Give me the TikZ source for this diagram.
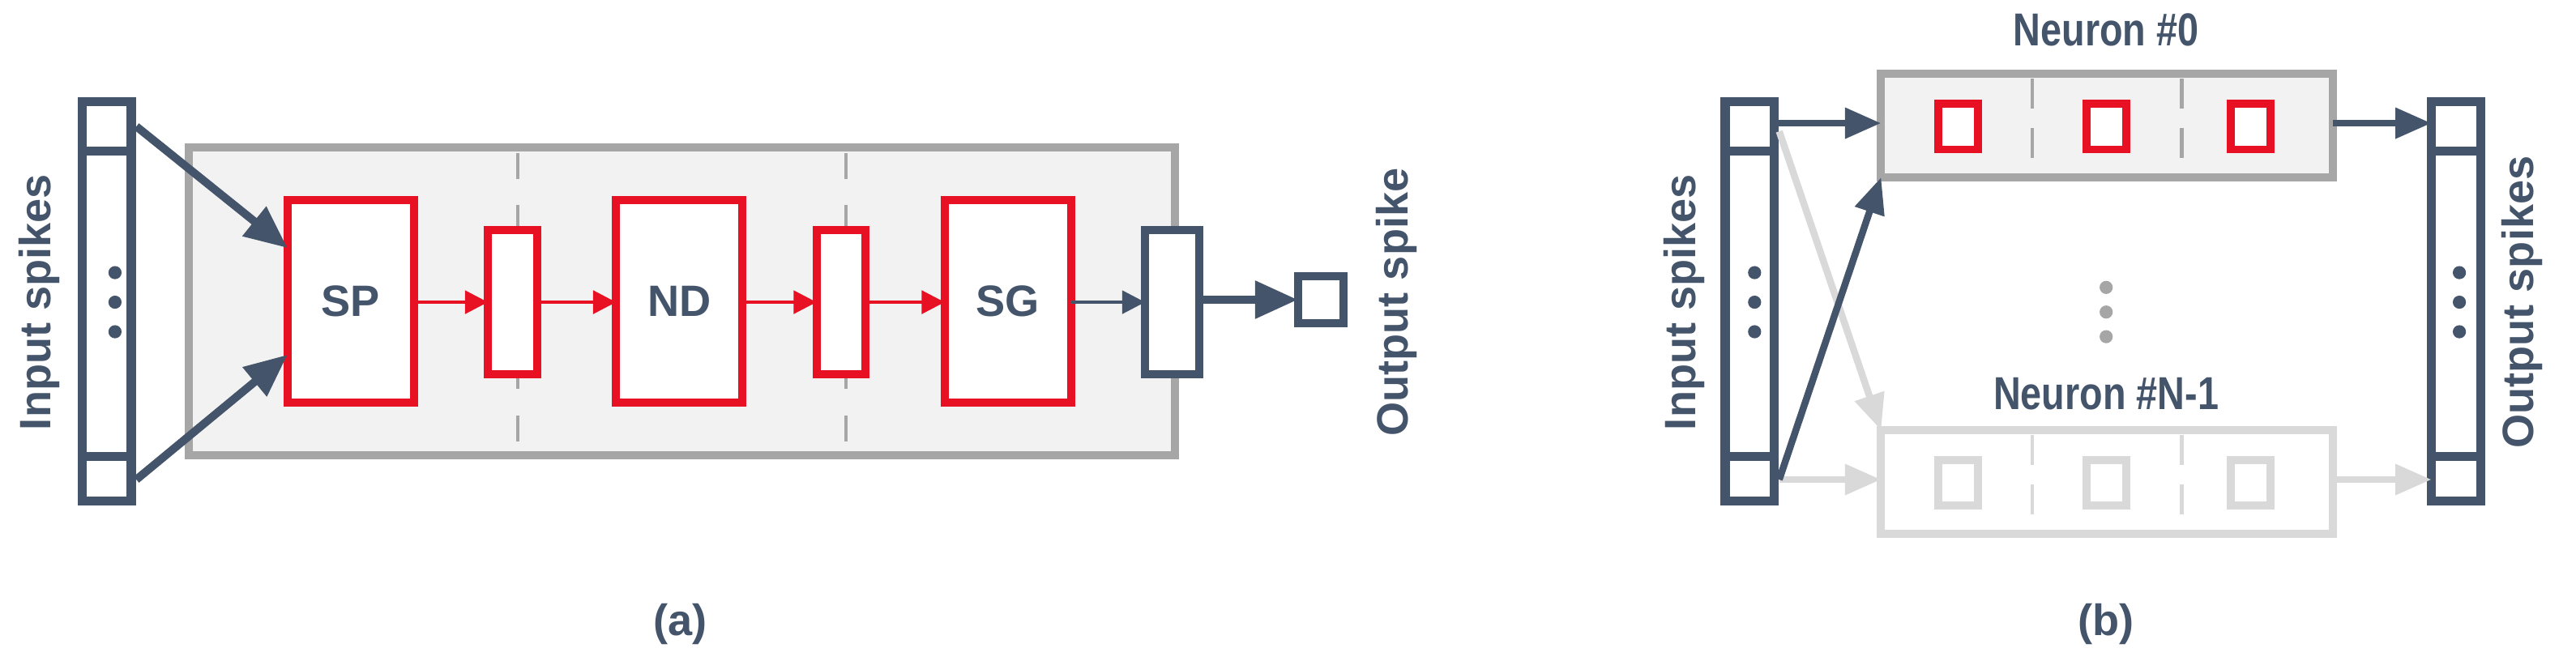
\documentclass[tikz,border=0pt]{standalone}
\usepackage{fontspec}
\setmainfont{Liberation Sans}
\usetikzlibrary{arrows.meta}
\definecolor{navy}{HTML}{44546A}
\definecolor{myred}{HTML}{E81123}
\definecolor{mgray}{HTML}{A6A6A6}
\definecolor{lgray}{HTML}{D9D9D9}
\definecolor{bgfill}{HTML}{F2F2F2}
\begin{document}
\begin{tikzpicture}[x=0.05cm,y=-0.05cm,
  every node/.style={inner sep=0pt,outer sep=0pt},
  col/.style={draw=navy,line width=8pt,fill=white,minimum width=1.5cm,minimum height=12.15cm},
  redbox/.style={draw=myred,line width=7pt,fill=white,minimum width=3.85cm,minimum height=6.15cm,font=\bfseries\fontsize{38}{40}\selectfont,text=navy},
  regbox/.style={draw=myred,line width=7pt,fill=white,minimum width=1.5cm,minimum height=4.4cm},
  outer/.style={draw=mgray,line width=7pt,fill=bgfill},
  lbl/.style={font=\bfseries\fontsize{38}{40}\selectfont,text=navy},
  nlbl/.style={font=\bfseries\fontsize{40}{42}\selectfont,text=navy,xscale=0.82},
  big/.style={draw=navy,line width=7pt,-{Triangle[length=1.3cm,width=1.1cm]}},
  thin/.style={line width=3pt,-{Triangle[length=0.7cm,width=0.7cm]}},
  dots/.style={circle,fill=navy,minimum size=0.4cm},
  neu/.style={line width=7pt,minimum width=13.75cm,minimum height=3.15cm},
  sq/.style={line width=7pt,fill=white,minimum width=1.2cm,minimum height=1.4cm}]
\useasboundingbox (0,0) rectangle (1568,402);
% ---------- panel (a)
\node[outer,minimum width=30cm,minimum height=9.35cm] (gbox) at (415,183.5) {};
\draw[mgray,line width=3pt,dash pattern=on 0.8cm off 0.8cm] (315,93) -- (315,274);
\draw[mgray,line width=3pt,dash pattern=on 0.8cm off 0.8cm] (515,93) -- (515,274);
\node[col] (inA) at (65,183.5) {};
\draw[navy,line width=8pt] (inA.west |- 0,92) -- (inA.east |- 0,92);
\draw[navy,line width=8pt] (inA.west |- 0,278) -- (inA.east |- 0,278);
\node[dots] (da1) at (70,166) {};
\node[dots] (da2) at (70,184) {};
\node[dots] (da3) at (70,202) {};
\node[lbl,rotate=90] (inlblA) at (24,184) {Input spikes};
\node[redbox] (sp) at (213.5,183.5) {SP};
\node[regbox] (r1) at (312,184) {};
\node[redbox] (nd) at (413.5,183.5) {ND};
\node[regbox] (r2) at (512,184) {};
\node[redbox] (sg) at (613.5,183.5) {SG};
\node[draw=navy,line width=7pt,fill=white,minimum width=1.65cm,minimum height=4.4cm] (dk) at (713.5,184) {};
\node[draw=navy,line width=7pt,fill=white,minimum width=1.4cm,minimum height=1.45cm] (osq) at (804,182.5) {};
\node[lbl,rotate=90] (outlblA) at (850,184) {Output spike};
\node[lbl] (capa) at (414,380) {(a)};
\coordinate (a1) at (83,77);
\coordinate (a2) at (83,292);
\draw[big] (a1) -- (sp.west |- 0,151);
\draw[big] (a2) -- (sp.west |- 0,216);
\draw[thin,myred] (sp.east |- 0,184) -- (r1.west);
\draw[thin,myred] (r1.east) -- (nd.west |- 0,184);
\draw[thin,myred] (nd.east |- 0,184) -- (r2.west);
\draw[thin,myred] (r2.east) -- (sg.west |- 0,184);
\draw[thin,navy] (sg.east |- 0,184) -- (dk.west);
\draw[big] (dk.east |- 0,182.5) -- (osq.west);
% ---------- panel (b)
\node[col] (inB) at (1065,183.5) {};
\draw[navy,line width=8pt] (inB.west |- 0,92) -- (inB.east |- 0,92);
\draw[navy,line width=8pt] (inB.west |- 0,278) -- (inB.east |- 0,278);
\node[dots] (db1) at (1068,166) {};
\node[dots] (db2) at (1068,184) {};
\node[dots] (db3) at (1068,202) {};
\node[lbl,rotate=90] (inlblB) at (1025,184) {Input spikes};
\node[col] (outB) at (1495,183.5) {};
\draw[navy,line width=8pt] (outB.west |- 0,92) -- (outB.east |- 0,92);
\draw[navy,line width=8pt] (outB.west |- 0,278) -- (outB.east |- 0,278);
\node[dots] (do1) at (1497,166) {};
\node[dots] (do2) at (1497,184) {};
\node[dots] (do3) at (1497,202) {};
\node[lbl,rotate=90] (outlblB) at (1535,184) {Output spikes};
% neuron 0
\node[neu,draw=mgray,fill=bgfill] (n0) at (1282.5,76.5) {};
\draw[mgray,line width=3pt,dash pattern=on 0.9cm off 0.6cm] (1237,48) -- (1237,106);
\draw[mgray,line width=3pt,dash pattern=on 0.9cm off 0.6cm] (1328,48) -- (1328,106);
\node[sq,draw=myred] (s1) at (1192,77) {};
\node[sq,draw=myred] (s2) at (1282,77) {};
\node[sq,draw=myred] (s3) at (1370,77) {};
\node[nlbl] (l0) at (1282,18) {Neuron \#0};
% neuron N-1
\node[neu,draw=lgray,fill=white] (n1) at (1282.5,293.5) {};
\draw[lgray,line width=3pt,dash pattern=on 0.9cm off 0.6cm] (1237,265) -- (1237,323);
\draw[lgray,line width=3pt,dash pattern=on 0.9cm off 0.6cm] (1328,265) -- (1328,323);
\node[sq,draw=lgray] (t1) at (1192,294) {};
\node[sq,draw=lgray] (t2) at (1282,294) {};
\node[sq,draw=lgray] (t3) at (1370,294) {};
\node[nlbl] (l1) at (1282,240) {Neuron \#N-1};
\node[circle,fill=mgray,minimum size=0.4cm] (v1) at (1282,175) {};
\node[circle,fill=mgray,minimum size=0.4cm] (v2) at (1282,190) {};
\node[circle,fill=mgray,minimum size=0.4cm] (v3) at (1282,205) {};
% arrows
\coordinate (b1) at (1083,80);
\coordinate (b2) at (1083,292);
\draw[lgray,line width=6pt,-{Triangle[length=1.1cm,width=0.9cm]}] (b1) -- (n1.north west);
\draw[lgray,line width=6pt,-{Triangle[length=1.1cm,width=0.9cm]}] (b2) -- (n1.west |- b2);
\draw[lgray,line width=6pt,-{Triangle[length=1.1cm,width=0.9cm]}] (n1.east |- b2) -- (outB.west |- b2);
\draw[navy,line width=6pt,-{Triangle[length=1.1cm,width=0.9cm]}] (inB.east |- 0,75) -- (n0.west |- 0,75);
\draw[navy,line width=6pt,-{Triangle[length=1.1cm,width=0.9cm]}] (b2) -- (n0.south west);
\draw[navy,line width=6pt,-{Triangle[length=1.1cm,width=0.9cm]}] (n0.east |- 0,75) -- (outB.west |- 0,75);
\node[lbl] (capb) at (1282,380) {(b)};
\end{tikzpicture}
\end{document}
